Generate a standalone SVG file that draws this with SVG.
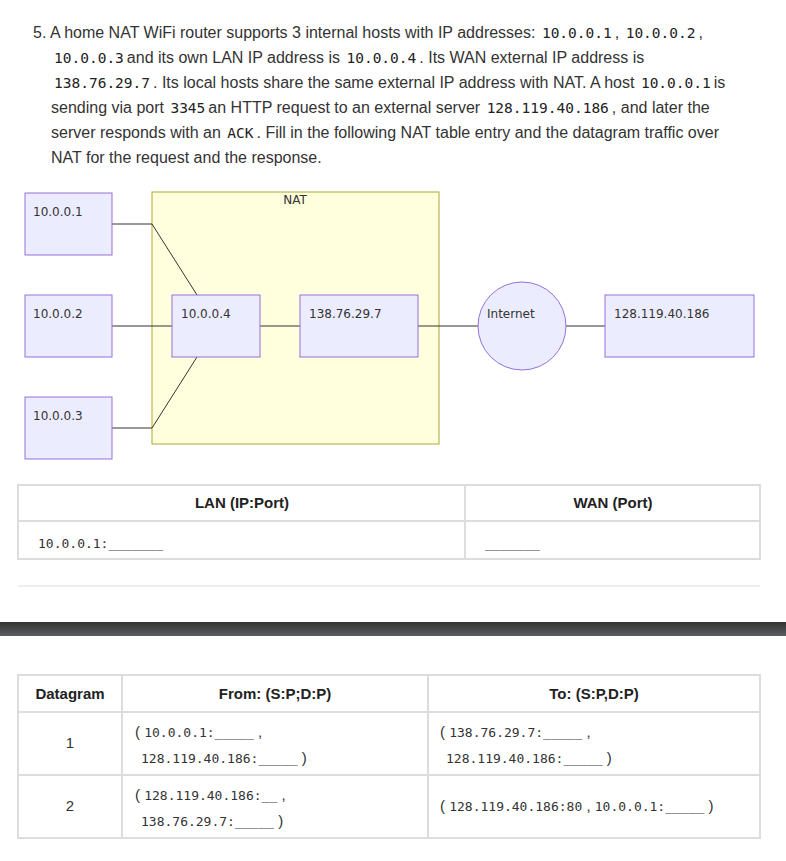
<svg xmlns="http://www.w3.org/2000/svg" width="786" height="861" viewBox="0 0 786 861">
<style>
.t{font-family:"Liberation Sans",Arial,sans-serif;font-size:15px;fill:#333}
.p{font-family:"Liberation Sans",Arial,sans-serif;font-size:16px;fill:#333}
.m{font-family:"DejaVu Sans Mono",monospace;font-size:13px;fill:#333}
.q{font-family:"DejaVu Sans Mono",monospace;font-size:14.5px;fill:#222}
.b{font-family:"Liberation Sans",Arial,sans-serif;font-size:15px;font-weight:bold;fill:#222}
.n{fill:#ececff;stroke:#9370db;stroke-width:1}
.l{font-family:"DejaVu Sans",Verdana,sans-serif;font-size:12px;fill:#333}
.c{stroke:#333;stroke-width:1;fill:none}
.cell{fill:none;stroke:#ddd;stroke-width:2}
</style>
<defs><linearGradient id="g" x1="0" y1="0" x2="0" y2="1"><stop offset="0" stop-color="#333"/><stop offset="1" stop-color="#5a5d60"/></linearGradient></defs>
<rect width="786" height="861" fill="#fff"/>
<text class="p" x="33" y="38">5. A home NAT WiFi router supports 3 internal hosts with IP addresses: <tspan class="q" dx="2">10.0.0.1</tspan><tspan dx="3">,</tspan> <tspan class="q" dx="2">10.0.0.2</tspan><tspan dx="3">,</tspan></text>
<text class="p" x="51" y="63"><tspan class="q" dx="3">10.0.0.3</tspan><tspan dx="3">and its own LAN IP address is</tspan> <tspan class="q" dx="2">10.0.0.4</tspan><tspan dx="3">. Its WAN external IP address is</tspan></text>
<text class="p" x="51" y="88"><tspan class="q" dx="3">138.76.29.7</tspan><tspan dx="3">. Its local hosts share the same external IP address with NAT. A host</tspan> <tspan class="q" dx="2">10.0.0.1</tspan><tspan dx="3">is</tspan></text>
<text class="p" x="51" y="113">sending via port <tspan class="q" dx="2">3345</tspan><tspan dx="3">an HTTP request to an external server</tspan> <tspan class="q" dx="2">128.119.40.186</tspan><tspan dx="3">, and later the</tspan></text>
<text class="p" x="51" y="138">server responds with an <tspan class="q" dx="2">ACK</tspan><tspan dx="3">. Fill in the following NAT table entry and the datagram traffic over</tspan></text>
<text class="p" x="51" y="163">NAT for the request and the response.</text>

<g id="nat"><rect x="152" y="192" width="287" height="252" fill="#ffffde" stroke="#aaaa33"/><text class="l" x="295" y="204" text-anchor="middle">NAT</text></g>
<g id="connectors">
<polyline class="c" points="112,224 152,224 197,295"/>
<polyline class="c" points="112,326 172,326"/>
<polyline class="c" points="112,428 152,428 197,357"/>
<line class="c" x1="260" y1="326" x2="300" y2="326"/>
<line class="c" x1="418" y1="326" x2="478" y2="326"/>
<line class="c" x1="566" y1="326" x2="605" y2="326"/>
</g>
<g id="h1"><rect class="n" x="25" y="193" width="87" height="62"/><text class="l" x="33" y="216">10.0.0.1</text></g>
<g id="h2"><rect class="n" x="25" y="295" width="87" height="62"/><text class="l" x="33" y="318">10.0.0.2</text></g>
<g id="h3"><rect class="n" x="25" y="397" width="87" height="62"/><text class="l" x="33" y="420">10.0.0.3</text></g>
<g id="lan"><rect class="n" x="172" y="295" width="88" height="62"/><text class="l" x="181" y="318">10.0.0.4</text></g>
<g id="wan"><rect class="n" x="300" y="295" width="118" height="62"/><text class="l" x="309" y="318">138.76.29.7</text></g>
<g id="internet"><circle class="n" cx="522" cy="326" r="44"/><text class="l" x="487" y="318">Internet</text></g>
<g id="server"><rect class="n" x="605" y="295" width="149" height="62"/><text class="l" x="614" y="318">128.119.40.186</text></g>

<g id="nattable">
<rect class="cell" x="18" y="485" width="742" height="74"/>
<line class="cell" x1="18" y1="521" x2="760" y2="521"/>
<line class="cell" x1="465" y1="485" x2="465" y2="559"/>
<text class="b" x="242" y="508" text-anchor="middle">LAN (IP:Port)</text>
<text class="b" x="613" y="508" text-anchor="middle">WAN (Port)</text>
<text class="m" x="38" y="548">10.0.0.1:_______</text>
<text class="m" x="485" y="548">_______</text>
</g>
<line x1="18" y1="586" x2="760" y2="586" stroke="#ddd" stroke-width="1"/>
<rect x="0" y="622" width="786" height="14" fill="url(#g)"/>

<g id="dgtable">
<rect class="cell" x="18" y="675" width="742" height="163"/>
<line class="cell" x1="18" y1="712" x2="760" y2="712"/>
<line class="cell" x1="18" y1="775" x2="760" y2="775"/>
<line class="cell" x1="122" y1="675" x2="122" y2="838"/>
<line class="cell" x1="428" y1="675" x2="428" y2="838"/>
<text class="b" x="70" y="699" text-anchor="middle">Datagram</text>
<text class="b" x="275" y="699" text-anchor="middle">From: (S:P;D:P)</text>
<text class="b" x="594" y="699" text-anchor="middle">To: (S:P,D:P)</text>
<text class="t" x="70" y="748" text-anchor="middle">1</text>
<text class="t" x="70" y="811" text-anchor="middle">2</text>
<text class="t" x="135" y="737">( <tspan class="m">10.0.0.1:_____</tspan> ,</text>
<text class="t" x="141" y="763"><tspan class="m">128.119.40.186:_____</tspan> )</text>
<text class="t" x="440" y="737">( <tspan class="m">138.76.29.7:_____</tspan> ,</text>
<text class="t" x="446" y="763"><tspan class="m">128.119.40.186:_____</tspan> )</text>
<text class="t" x="135" y="800">( <tspan class="m">128.119.40.186:__</tspan> ,</text>
<text class="t" x="141" y="826"><tspan class="m">138.76.29.7:_____</tspan> )</text>
<text class="t" x="440" y="811">( <tspan class="m">128.119.40.186:80</tspan> , <tspan class="m">10.0.0.1:_____</tspan> )</text>
</g>
</svg>
